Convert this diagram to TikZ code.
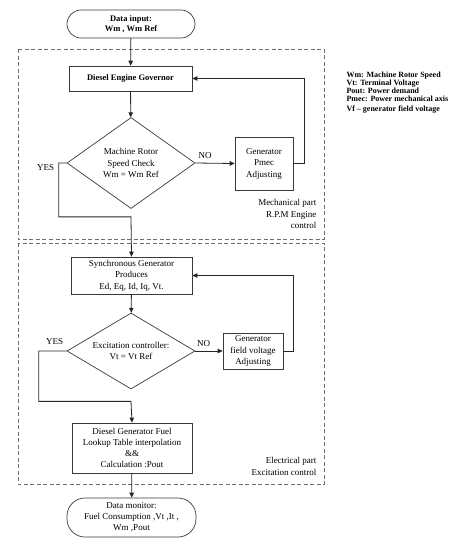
\documentclass[tikz,border=0pt]{standalone}
\usepackage{fontspec}
\setmainfont{Liberation Serif}
\usetikzlibrary{arrows.meta,positioning,calc,shapes.geometric}
\definecolor{linegray}{HTML}{3A3A3A}
\definecolor{dashgray}{HTML}{6E6E6E}

\begin{document}
\begin{tikzpicture}[x=1pt,y=-1pt,
  >={Triangle[length=5pt,width=4.5pt]},
  txt/.style={font=\fontsize{9}{11.5}\selectfont},
  box/.style={draw=linegray,line width=0.7pt,align=center,inner sep=1pt,txt},
  term/.style={box,rounded corners=14pt},
  check/.style={diamond,box,aspect=1.4,inner sep=0pt},
  flow/.style={->,draw=black!85,line width=0.8pt},
  region/.style={draw=dashgray,dashed,line width=0.7pt,dash pattern=on 4pt off 2.5pt}]
  \useasboundingbox (0,0) rectangle (474,547);
  % zonas punteadas
  \draw[region] (18,49) rectangle (324,239);
  \draw[region] (18,243) rectangle (324,484);
  \node[txt,align=right,anchor=north east] (mechtxt) at (320,196) {Mechanical part\\R.P.M Engine\\control};
  \node[txt,align=right,anchor=north east] (electxt) at (320,454) {Electrical part\\Excitation control};

  \node[term,minimum width=128,minimum height=28,font=\fontsize{8.5}{10.5}\selectfont\bfseries] (start) at (131,24) {Data input:\\Wm , Wm Ref};
  \node[box,minimum width=123,minimum height=25,font=\fontsize{8.5}{10.5}\selectfont\bfseries] (gov) at (130.5,78.5) {Diesel Engine Governor};
  \node[check,minimum width=128,minimum height=91] (chk1) at (131,163) {Machine Rotor\\Speed Check\\Wm = Wm Ref};
  \node[box,minimum width=58,minimum height=53] (pmec) at (264,163.5) {Generator\\Pmec\\Adjusting};

  \node[box,minimum width=121,minimum height=37] (sync) at (131.5,275.5) {Synchronous Generator\\Produces\\Ed, Eq, Id, Iq, Vt.};
  \node[check,minimum width=128,minimum height=76] (chk2) at (131,351) {Excitation controller:\\Vt = Vt Ref};
  \node[box,minimum width=60,minimum height=36] (field) at (253,351) {Generator\\field voltage\\Adjusting};
  \node[box,minimum width=120,minimum height=50,font=\fontsize{9}{10.8}\selectfont] (fuel) at (132,448) {Diesel Generator Fuel\\Lookup Table interpolation\\\&\&\\Calculation :Pout};
  \node[term,minimum width=129,minimum height=39,rounded corners=18pt,font=\fontsize{9}{10.8}\selectfont] (monitor) at (131.5,517.5) {Data monitor:\\Fuel Consumption ,Vt ,It ,\\Wm ,Pout};

  \node[txt,anchor=north west,align=left,font=\fontsize{8}{8}\selectfont\bfseries] (legend) at (343,68)
    {Wm: Machine Rotor Speed\\Vt: Terminal Voltage\\Pout: Power demand\\Pmec: Power mechanical axis\\[2.5pt]Vf -- generator field voltage};

  \coordinate (j1) at ($(chk1.south)+(0,8)$);
  \coordinate (j2) at ($(chk2.south)+(0,12)$);

  \draw[flow] (start) -- (gov);
  \draw[flow] (gov) -- (chk1);
  \draw[flow] (chk1.east) -- node[txt,pos=0.25,above=1pt] (no1) {NO} (pmec.west);
  \draw[flow] (pmec.east) -- ++(11,0) |- (gov.east);
  \draw[flow] (chk1.west) -- ++(-8,0) |- (j1) -- (sync.north);
  \node[txt,anchor=east] (yes1) at ($(chk1.west)+(-9,5)$) {YES};

  \draw[flow] (sync) -- (chk2);
  \draw[flow] (chk2.east) -- node[txt,pos=0.3,above=1pt] (no2) {NO} (field.west);
  \draw[flow] (field.east) -- ++(10,0) |- (sync.east);
  \draw[flow] (chk2.west) -- ++(-28,0) |- (j2) -- (fuel.north);
  \node[txt,anchor=south] (yes2) at ($(chk2.west)+(-12,-3)$) {YES};
  \draw[flow] (fuel) -- (monitor);
\end{tikzpicture}
\end{document}
